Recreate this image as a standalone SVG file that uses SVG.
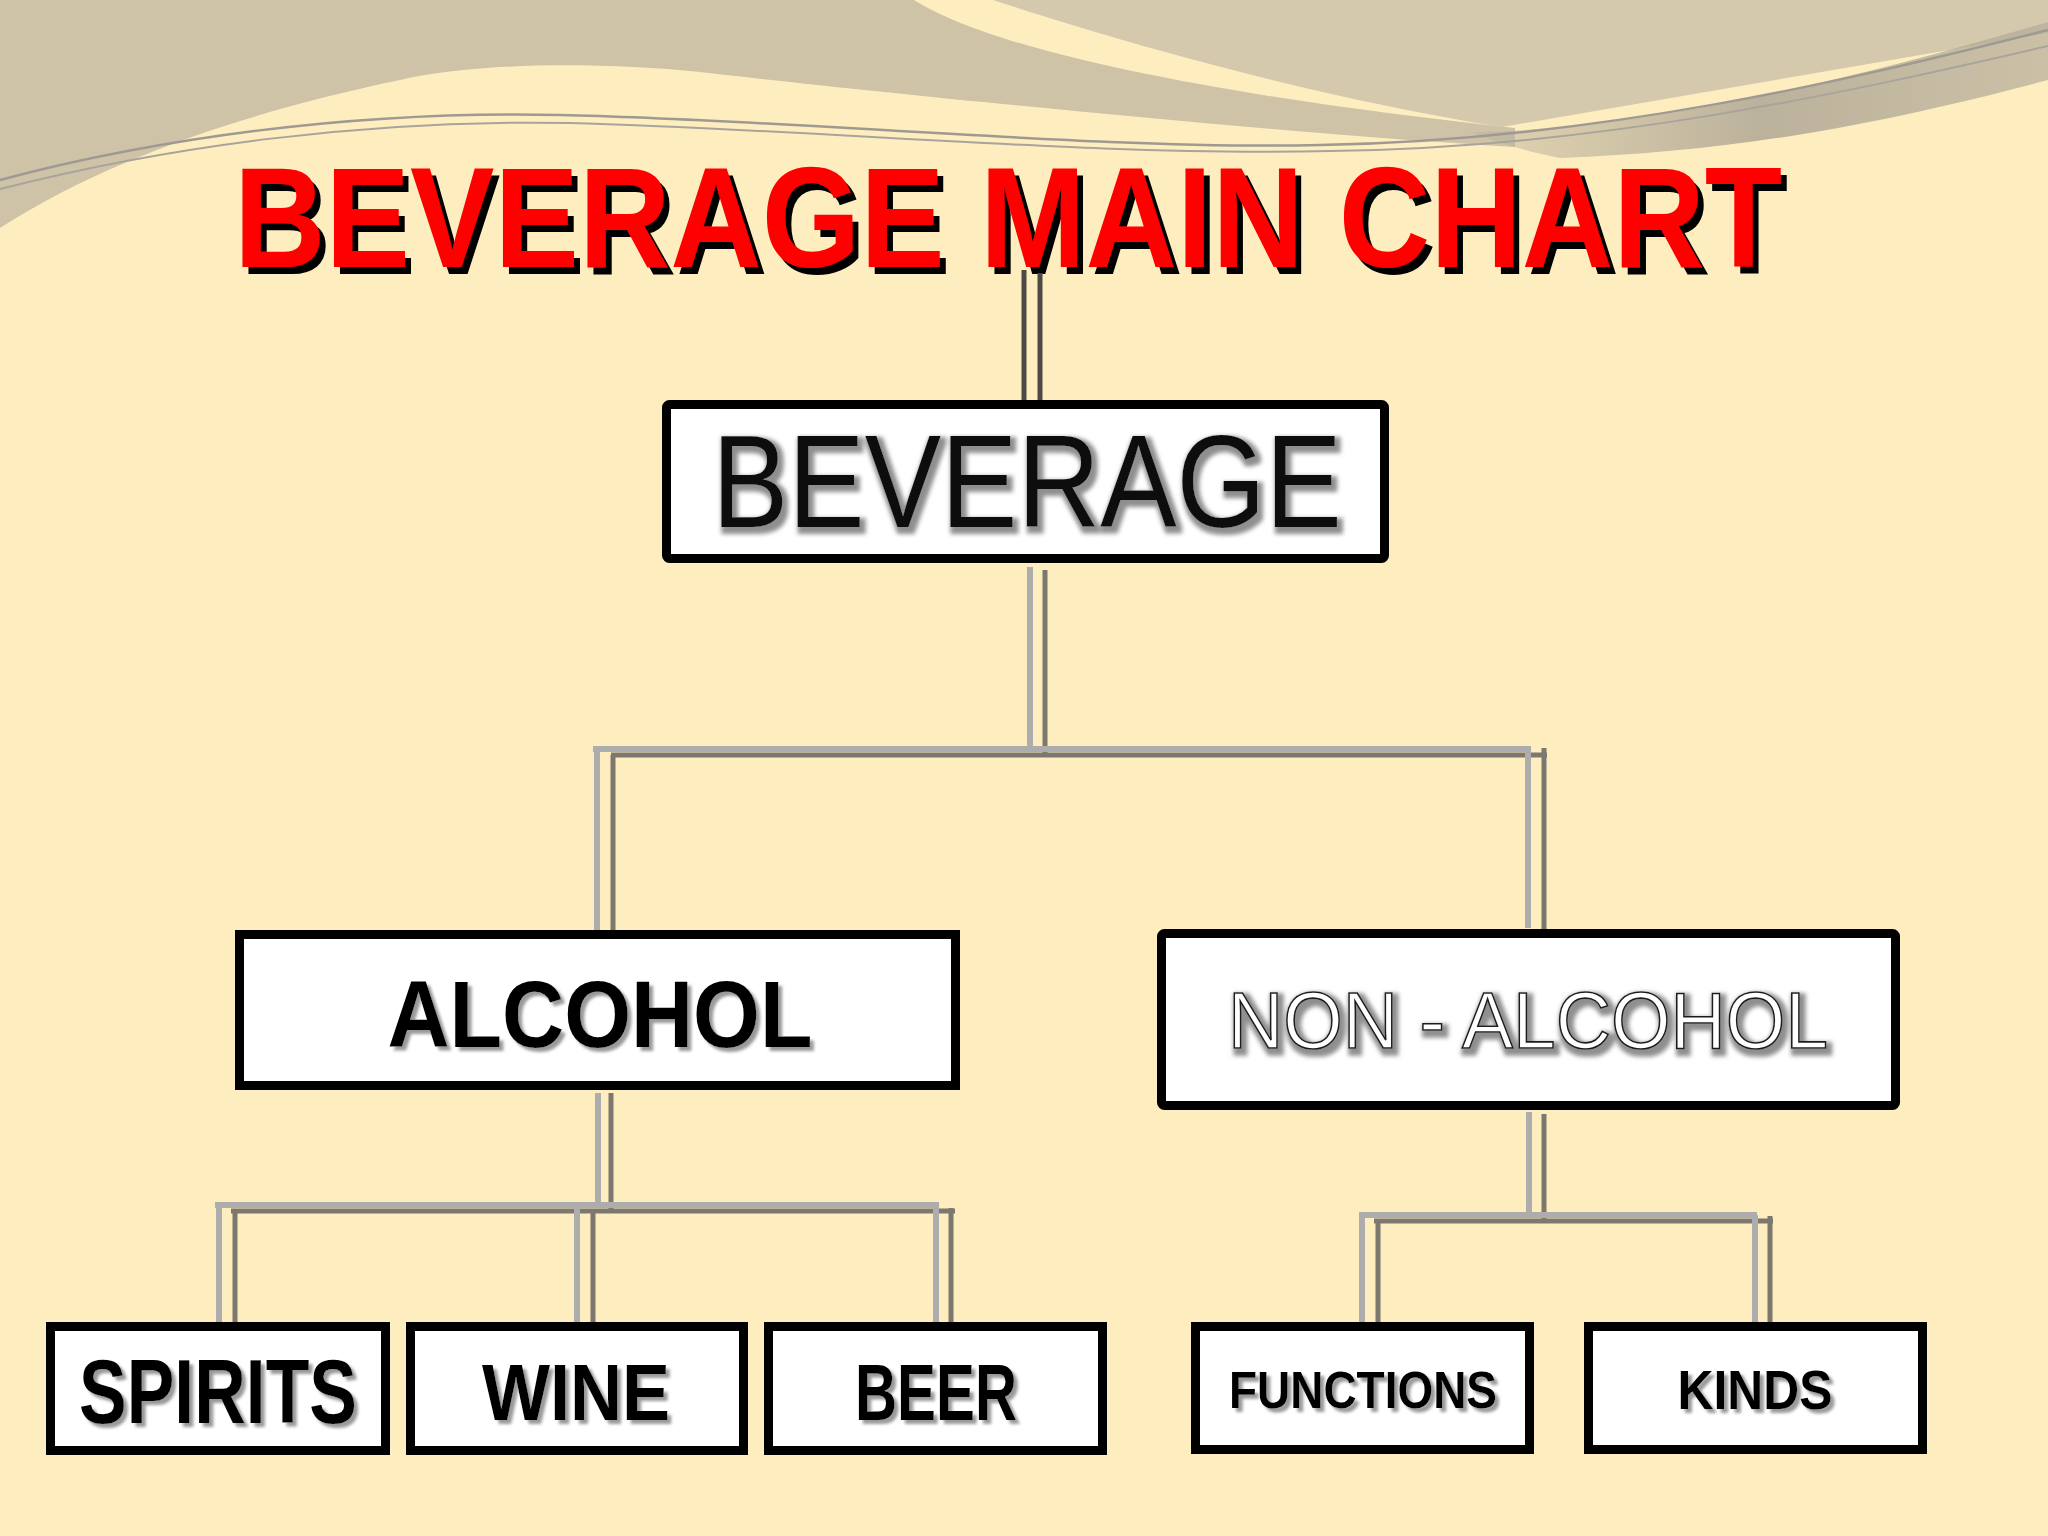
<svg xmlns="http://www.w3.org/2000/svg" width="2048" height="1536" viewBox="0 0 2048 1536">
<defs>
<style>
.box{fill:#ffffff;stroke:#000000;stroke-width:9;}
.lt{stroke:#ADADAD;stroke-width:6;fill:none;stroke-linecap:butt;}
.dk{stroke:#7C786F;stroke-width:5;fill:none;stroke-linecap:butt;}
.top{stroke:#4B4A44;stroke-width:5;fill:none;}
.lbl{font-family:"Liberation Sans",Arial,sans-serif;text-anchor:middle;}
.b{font-weight:bold;fill:#000;filter:url(#sh);}
</style>
<filter id="tsh" x="-5%" y="-10%" width="110%" height="130%">
<feDropShadow dx="6" dy="7" stdDeviation="0" flood-color="#000" flood-opacity="1"/>
</filter>
<filter id="sh" x="-10%" y="-20%" width="120%" height="150%">
<feDropShadow dx="4" dy="4" stdDeviation="1.5" flood-color="#9a9a9a" flood-opacity="1"/>
</filter>
<filter id="glow" x="-10%" y="-20%" width="120%" height="150%">
<feMorphology in="SourceAlpha" operator="dilate" radius="3" result="d"/>
<feGaussianBlur in="d" stdDeviation="2" result="b"/>
<feOffset in="b" dx="3" dy="4" result="o"/>
<feFlood flood-color="#8f8f8f"/>
<feComposite in2="o" operator="in" result="s"/>
<feMerge><feMergeNode in="s"/><feMergeNode in="SourceGraphic"/></feMerge>
</filter>
<linearGradient id="band" x1="0" y1="0" x2="1" y2="0">
<stop offset="0" stop-color="#B8AF9C" stop-opacity="0.4"/>
<stop offset="0.5" stop-color="#ABA393" stop-opacity="0.8"/>
<stop offset="1" stop-color="#B5AD9B" stop-opacity="0.7"/>
</linearGradient>
</defs>

<g id="background">
<rect x="0" y="0" width="2048" height="1536" fill="#FEEDBF"/>
<path d="M0,0 L914,0 C1000,55 1250,100 1515,128 L1515,147 C1300,135 900,95 700,72 C600,62 480,62 400,80 C280,105 120,150 0,228 Z" fill="#CEC3A7"/>
<path d="M993,0 C1100,35 1300,95 1502,127 L2048,33 L2048,0 Z" fill="#D4C9AD"/>
<path d="M1470,132 C1650,130 1850,80 2048,22 L2048,80 C1860,130 1720,152 1560,158 C1520,150 1490,140 1470,132 Z" fill="url(#band)"/>
<path d="M0,180 C150,140 350,110 560,115 C800,120 1100,150 1320,145 C1600,140 1850,80 2048,30" fill="none" stroke="#9E9A92" stroke-width="2.5"/>
<path d="M0,189 C160,148 360,119 570,123 C810,129 1100,157 1330,151 C1600,148 1850,92 2048,46" fill="none" stroke="#A8A49C" stroke-width="2"/>
</g>

<g id="title">
<text x="1008" y="267" class="lbl" font-size="142" font-weight="bold" fill="#FF0000" textLength="1548" lengthAdjust="spacingAndGlyphs" filter="url(#tsh)">BEVERAGE MAIN CHART</text>
</g>

<g id="connectors">
<line class="top" x1="1024" y1="270" x2="1024" y2="404"/>
<line class="top" x1="1040" y1="273" x2="1040" y2="407"/>

<path class="dk" d="M1045,570 V755 M611,755 H1547 M613,755 V936 M1544,748 V930"/>
<path class="lt" d="M1030,567 V749 M593,749 H1531 M597,749 V933 M1528,749 V928"/>

<path class="dk" d="M611,1093 V1211 M231,1211 H955 M235,1211 V1328 M593,1211 V1328 M951,1208 V1328"/>
<path class="lt" d="M598,1093 V1205 M215,1205 H939 M219,1205 V1326 M577,1205 V1326 M936,1205 V1326"/>

<path class="dk" d="M1544,1114 V1221 M1374,1221 H1773 M1378,1221 V1328 M1770,1216 V1328"/>
<path class="lt" d="M1529,1112 V1215 M1359,1215 H1757 M1362,1215 V1325 M1755,1215 V1325"/>
</g>

<g id="node-beverage">
<rect class="box" x="666.5" y="404.5" width="718" height="154" rx="3"/>
<text x="1027" y="527" class="lbl" font-size="131" fill="#111" textLength="630" lengthAdjust="spacingAndGlyphs" filter="url(#glow)">BEVERAGE</text>
</g>

<g id="node-alcohol">
<rect class="box" x="239.5" y="934.5" width="716" height="151"/>
<text x="600" y="1047" class="lbl b" font-size="95" textLength="425" lengthAdjust="spacingAndGlyphs">ALCOHOL</text>
</g>

<g id="node-non-alcohol">
<rect class="box" x="1161.5" y="933.5" width="734" height="172" rx="3"/>
<text x="1528" y="1048" class="lbl" font-size="80" fill="#ffffff" stroke="#1a1a1a" stroke-width="1.6" textLength="600" lengthAdjust="spacingAndGlyphs" filter="url(#glow)">NON - ALCOHOL</text>
</g>

<g id="node-spirits">
<rect class="box" x="50.5" y="1326.5" width="335" height="124"/>
<text x="218" y="1423" class="lbl b" font-size="91" textLength="278" lengthAdjust="spacingAndGlyphs">SPIRITS</text>
</g>

<g id="node-wine">
<rect class="box" x="410.5" y="1326.5" width="333" height="124"/>
<text x="576" y="1420" class="lbl b" font-size="80" textLength="188" lengthAdjust="spacingAndGlyphs">WINE</text>
</g>

<g id="node-beer">
<rect class="box" x="768.5" y="1326.5" width="334" height="124"/>
<text x="936" y="1420" class="lbl b" font-size="80" textLength="162" lengthAdjust="spacingAndGlyphs">BEER</text>
</g>

<g id="node-functions">
<rect class="box" x="1195.5" y="1326.5" width="334" height="123"/>
<text x="1363" y="1408" class="lbl b" font-size="51" textLength="268" lengthAdjust="spacingAndGlyphs">FUNCTIONS</text>
</g>

<g id="node-kinds">
<rect class="box" x="1588.5" y="1326.5" width="334" height="123"/>
<text x="1755" y="1409" class="lbl b" font-size="55" textLength="155" lengthAdjust="spacingAndGlyphs">KINDS</text>
</g>
</svg>
